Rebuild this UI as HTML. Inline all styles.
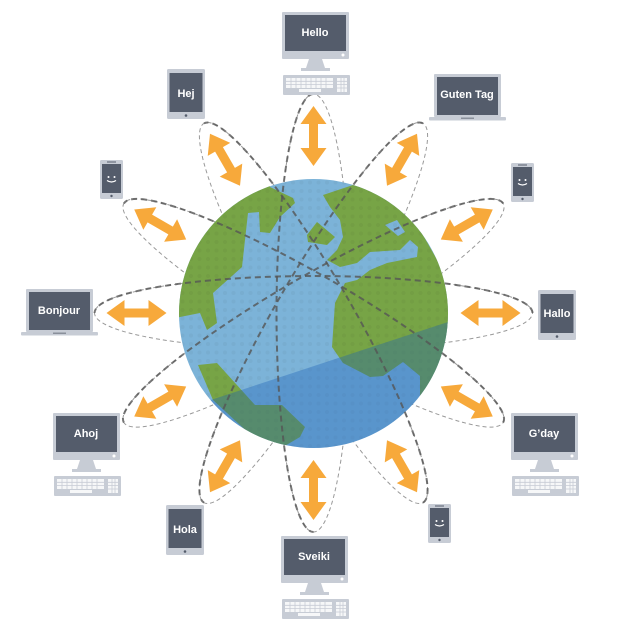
<!DOCTYPE html>
<html><head><meta charset="utf-8"><style>
html,body{margin:0;padding:0;background:#fff;width:624px;height:624px;overflow:hidden}
svg{display:block}
text{font-family:"Liberation Sans",sans-serif;font-weight:bold;font-size:11px;fill:#fff;text-anchor:middle}
</style></head><body>
<svg width="624" height="624" viewBox="0 0 624 624" xmlns="http://www.w3.org/2000/svg">
<defs>
<clipPath id="gc"><circle cx="313.5" cy="313.5" r="134.5"/></clipPath>
<pattern id="dots" width="8.5" height="8.5" patternUnits="userSpaceOnUse"><circle cx="4" cy="4" r="2" fill="#000" opacity="0.035"/></pattern>
<g id="arrow"><path d="M0,-30 L13,-12 L4.5,-12 L4.5,12 L13,12 L0,30 L-13,12 L-4.5,12 L-4.5,-12 L-13,-12 Z" fill="#f7a93b"/></g>
<ellipse id="thin" cx="0" cy="0" rx="37" ry="219" fill="none" stroke="#999" stroke-width="1" stroke-dasharray="4 3"/>
<path id="thick" d="M0,-219 A37,219 0 0 0 0,219" fill="none" stroke="#555" stroke-width="2" stroke-dasharray="6 4" opacity="0.8"/>
<g id="monitor">
<rect x="0" y="0" width="67" height="47" rx="1" fill="#c7ccd5"/>
<rect x="3" y="3" width="61" height="36" fill="#545c6b"/>
<circle cx="61" cy="43" r="1.5" fill="#fff"/>
<path d="M27,47 L40,47 L43,56 L24,56 Z" fill="#c7ccd5"/>
<rect x="19" y="56" width="29" height="3" fill="#c7ccd5"/>
<rect x="1" y="63" width="67" height="20" rx="1" fill="#c7ccd5"/>
<g fill="#fff" opacity="0.85">
<rect x="4" y="66" width="47" height="10"/><rect x="55" y="66" width="10" height="14"/><rect x="17" y="77" width="22" height="3"/></g>
<g stroke="#c7ccd5" stroke-width="0.8">
<path d="M4,69.3H51M4,72.6H51M55,69.3H65M55,72.6H65M55,76H65M9,66V76M14,66V76M19,66V76M24,66V76M29,66V76M34,66V76M39,66V76M44,66V76M59,66V80M62,66V80"/></g>
</g>
<g id="laptop">
<rect x="0" y="0" width="67" height="43" rx="1" fill="#c7ccd5"/>
<rect x="3" y="3" width="61" height="38" fill="#545c6b"/>
<rect x="-5" y="43" width="77" height="3.5" rx="1" fill="#c7ccd5"/>
<rect x="27" y="43.5" width="13" height="1.5" fill="#8a909b"/>
</g>
<g id="tablet">
<rect x="0" y="0" width="38" height="50" rx="1.5" fill="#c7ccd5"/>
<rect x="2.5" y="4" width="33" height="39" fill="#545c6b"/>
<circle cx="19" cy="46.5" r="1.3" fill="#545c6b"/>
</g>
<g id="phone">
<rect x="0" y="0" width="23" height="39" rx="1.5" fill="#c7ccd5"/>
<rect x="2" y="4" width="19" height="29" fill="#545c6b"/>
<rect x="7" y="1.5" width="9" height="1" fill="#545c6b"/>
<circle cx="11.5" cy="36" r="1.2" fill="#545c6b"/>
<circle cx="8.5" cy="17" r="1" fill="#fff"/><circle cx="14.5" cy="17" r="1" fill="#fff"/>
<path d="M7,20.5 Q11.5,23.5 16,20.5" stroke="#fff" stroke-width="1.2" fill="none"/>
</g>
</defs>

<g transform="translate(313.5,313)">
<use href="#thin"/>
<use href="#thin" transform="rotate(30)"/>
<use href="#thin" transform="rotate(60)"/>
<use href="#thin" transform="rotate(90)"/>
<use href="#thin" transform="rotate(120)"/>
<use href="#thin" transform="rotate(150)"/>
</g>

<g clip-path="url(#gc)">
<rect x="170" y="170" width="290" height="290" fill="#7cb3d8"/>
<path d="M170,170 L270,170 L270,187 L293,198 L295,203 L280,217 L270,233 L260,232 L259,212 L248,213 L242,267 L213,293 L217,323 L207,330 L200,313 L180,317 L170,320 Z" fill="#77a446"/>
<path d="M323,195 L353,185 L403,200 L460,300 L460,470 L420,470 L420,376 L403,362 L383,376 L370,377 L343,363 L332,347 L335,303 L345,283 L357,280 L370,270 L387,263 L417,257 L418,247 L410,240 L400,250 L370,252 L357,263 L340,267 L327,260 L337,250 L343,237 L340,220 L330,207 Z" fill="#77a446"/>
<path d="M385,225 L397,220 L405,232 L398,236 Z" fill="#7cb3d8"/>
<path d="M317,222 L335,237 L327,245 L308,242 L307,235 Z" fill="#77a446"/>
<path d="M198,365 L217,363 L255,405 L282,405 L305,427 L300,437 L283,447 L253,437 L213,400 Z" fill="#77a446"/>
<rect x="170" y="170" width="290" height="290" fill="url(#dots)"/>
<path d="M150,420 L460,318 L460,470 L150,470 Z" fill="#1a5eb8" opacity="0.35"/>
</g>

<g transform="translate(313.5,313)">
<use href="#thick"/>
<use href="#thick" transform="rotate(30)"/>
<use href="#thick" transform="rotate(60)"/>
<use href="#thick" transform="rotate(90)"/>
<use href="#thick" transform="rotate(120)"/>
<use href="#thick" transform="rotate(150)"/>
<use href="#arrow" transform="rotate(0) translate(0,-177)"/>
<use href="#arrow" transform="rotate(30) translate(0,-177)"/>
<use href="#arrow" transform="rotate(60) translate(0,-177)"/>
<use href="#arrow" transform="rotate(90) translate(0,-177)"/>
<use href="#arrow" transform="rotate(120) translate(0,-177)"/>
<use href="#arrow" transform="rotate(150) translate(0,-177)"/>
<use href="#arrow" transform="rotate(180) translate(0,-177)"/>
<use href="#arrow" transform="rotate(210) translate(0,-177)"/>
<use href="#arrow" transform="rotate(240) translate(0,-177)"/>
<use href="#arrow" transform="rotate(270) translate(0,-177)"/>
<use href="#arrow" transform="rotate(300) translate(0,-177)"/>
<use href="#arrow" transform="rotate(330) translate(0,-177)"/>
</g>

<use href="#monitor" x="282" y="12"/><text x="315" y="36">Hello</text>
<use href="#laptop" x="434" y="74"/><text x="467" y="98">Guten Tag</text>
<use href="#phone" x="511" y="163"/>
<use href="#tablet" x="538" y="290"/><text x="557" y="317">Hallo</text>
<use href="#monitor" x="511" y="413"/><text x="544" y="437">G’day</text>
<use href="#phone" x="428" y="504"/>
<use href="#monitor" x="281" y="536"/><text x="314" y="560">Sveiki</text>
<use href="#tablet" x="166" y="505"/><text x="185" y="533">Hola</text>
<use href="#monitor" x="53" y="413"/><text x="86" y="437">Ahoj</text>
<use href="#laptop" x="26" y="289"/><text x="59" y="314">Bonjour</text>
<use href="#phone" x="100" y="160"/>
<use href="#tablet" x="167" y="69"/><text x="186" y="97">Hej</text>
</svg>
</body></html>
